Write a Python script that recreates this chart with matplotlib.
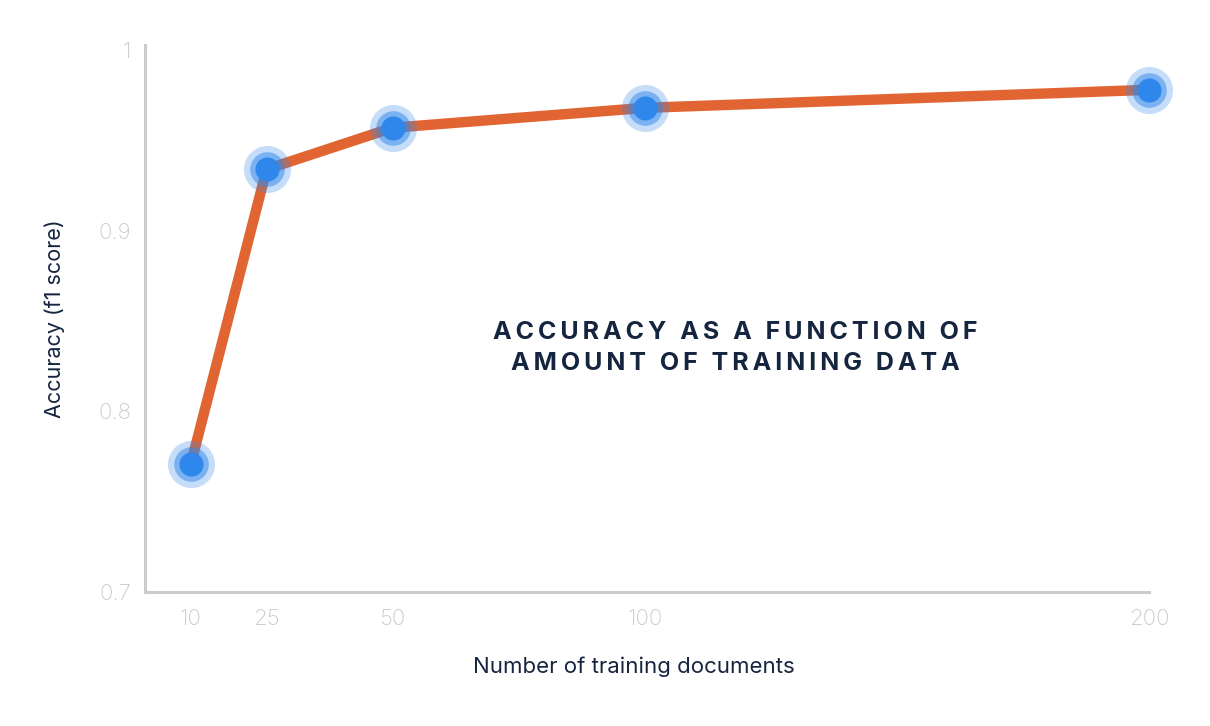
import matplotlib
matplotlib.use('Agg')
import matplotlib.pyplot as plt

plt.rcParams['font.family'] = ['Inter', 'DejaVu Sans']

# training set size vs. f1 accuracy
n_docs = [10, 25, 50, 100, 200]
f1_scores = [0.771, 0.934, 0.957, 0.968, 0.978]
x_ticks = [10, 25, 50, 100, 200]
y_ticks = [0.7, 0.8, 0.9, 1.0]
y_tick_labels = ['0.7', '0.8', '0.9', '1']
title_lines = ['ACCURACY AS A FUNCTION OF', 'AMOUNT OF TRAINING DATA']

navy = '#15253f'
tick_grey = '#cacaca'
spine_grey = '#cccccc'
orange = '#e06533'
blue = '#2f86eb'

fig = plt.figure(figsize=(12.1, 7.26), dpi=100)
ax = fig.add_axes([145 / 1210, 134 / 726, 1004 / 1210, 547 / 726])

ax.plot(n_docs, f1_scores, color=orange, lw=7.5, solid_capstyle='butt', zorder=2)
ax.scatter(n_docs, f1_scores, s=1150, color=blue, alpha=0.28, lw=0, zorder=3, clip_on=False)
ax.scatter(n_docs, f1_scores, s=620, color=blue, alpha=0.5, lw=0, zorder=4, clip_on=False)
ax.scatter(n_docs, f1_scores, s=300, color=blue, lw=0, zorder=5, clip_on=False)

ax.set_xlim(0.886, 199.8)
ax.set_ylim(0.7, 1.0028)
ax.set_xticks(x_ticks)
ax.set_xticklabels([str(v) for v in x_ticks])
ax.set_yticks(y_ticks)
ax.set_yticklabels(y_tick_labels)
ax.tick_params(length=0, labelsize=16, labelcolor=tick_grey)
ax.tick_params(axis='x', pad=12)
ax.tick_params(axis='y', pad=10)
for lbl in ax.get_xticklabels() + ax.get_yticklabels():
    lbl.set_fontweight('light')

for side in ['top', 'right']:
    ax.spines[side].set_visible(False)
for side in ['left', 'bottom']:
    ax.spines[side].set_color(spine_grey)
    ax.spines[side].set_linewidth(2.2)

ax.set_xlabel('Number of training documents', fontsize=16, color=navy)
ax.xaxis.set_label_coords(0.487, -0.118)
ax.set_ylabel('Accuracy (f1 score)', fontsize=15.5, color=navy, labelpad=24)

# spread the heading letters with hair spaces
spaced = ['\u200a\u200a'.join(line) for line in title_lines]
fig.text(735 / 1210, 1 - 348 / 726, '\n'.join(spaced),
         ha='center', va='center', fontsize=18, fontweight='bold', color=navy,
         linespacing=1.4)

fig.savefig('out.png', dpi=100)
